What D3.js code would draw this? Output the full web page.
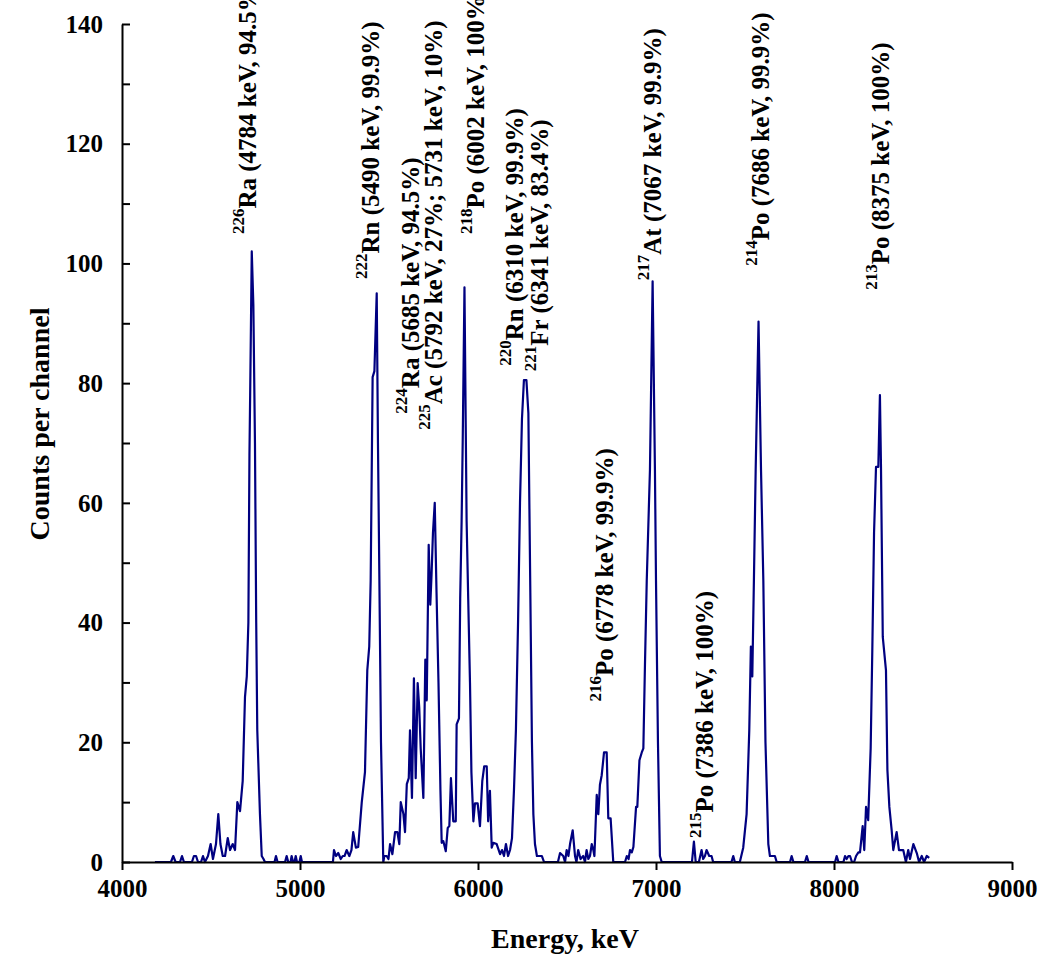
<!DOCTYPE html>
<html>
<head>
<meta charset="utf-8">
<script src="https://cdn.jsdelivr.net/npm/d3@7"></script>
<style>
	body { margin: 0; background: #fff; }
	svg text { font-family: "Liberation Serif", "Times New Roman", serif; font-weight: bold; fill: #000; }
</style>
</head>
<body>
<div id="vizHolder"></div>
<script>
// spectrum, energy (keV) and counts per channel
var energy = [4185,4275,4288,4301,4326,4337,4348,4393,4404,4416,4427,4444,4455,4466,4483,4498,4511,4528,4541,4553,
	4566,4579,4594,4607,4622,4635,4648,4663,4678,4691,4701,4710,4716,4720,4729,4738,4747,4754,4760,4775,
	4785,4795,4803,4857,4865,4874,4916,4925,4934,4947,4953,4961,4969,4976,4983,4997,5004,5011,5185,5191,
	5202,5215,5229,5240,5250,5262,5277,5289,5299,5314,5327,5347,5365,5378,5389,5397,5408,5418,5431,5438,
	5446,5455,5468,5474,5487,5497,5506,5519,5534,5547,5558,5566,5581,5590,5600,5611,5618,5629,5640,5650,
	5661,5670,5678,5693,5704,5712,5723,5732,5739,5747,5757,5767,5778,5789,5796,5805,5819,5830,5839,5848,
	5861,5875,5880,5893,5900,5908,5914,5924,5936,5945,5955,5963,5974,5983,5998,6011,6024,6035,6049,6057,
	6067,6077,6086,6105,6124,6135,6146,6157,6169,6180,6191,6202,6213,6225,6236,6247,6258,6272,6283,6294,
	6303,6311,6320,6331,6348,6359,6371,6433,6449,6461,6479,6489,6498,6508,6517,6532,6545,6553,6563,6576,
	6591,6601,6610,6620,6629,6639,6648,6654,6667,6676,6685,6695,6708,6723,6732,6745,6760,6826,6836,6846,
	6854,6864,6873,6888,6895,6907,6920,6929,6938,6948,6966,6981,6994,7000,7011,7022,7032,7202,7213,7223,
	7241,7256,7265,7275,7284,7299,7312,7321,7424,7434,7443,7471,7490,7509,7524,7533,7541,7550,7560,7576,
	7590,7603,7615,7631,7640,7668,7678,7753,7762,7772,7837,7847,7857,8006,8015,8025,8053,8062,8071,8081,
	8090,8101,8113,8124,8137,8146,8161,8170,8180,8192,8206,8215,8225,8236,8249,8258,8264,8274,8292,8300,
	8311,8324,8333,8352,8365,8389,8404,8417,8427,8446,8465,8478,8493,8506,8521,8535];

var counts = [0,0,1,0,0,1,0,0,1,1,0,0,1,0,1,3,0.5,3,8,3,
	1,1,4,2,3,2,10,8.5,13.5,27.6,31,40,68,78,102,93,70,40,22,8,
	1,0.5,0,0,1,0,0,1,0,0,1,0,0,1,0,0,1,0,0,2,
	1,1.5,0.5,1,1,2,1,2,5,2.4,2.5,10,15,32,36,47,81,82,95,70,
	47,20,0,1,1,0.5,3,1.3,5,5,3,10,8,5,13,14,22,10.7,30.7,14,
	29.9,25.7,19,10.7,33.8,27,53,43,48,55,60,45,30,12,3.2,3.5,1.8,5.7,6,14,
	6.8,6.8,23,24,44,57,70,96,57,44,30,15,6.8,9.8,9.8,6,13.5,16,16,6.8,
	11.9,2.4,3.2,3,1.3,2,1,3,1,2,4,12,22,40,60,74,80.5,80.5,75,45,
	20,8,3,1,1,1,0,0,0,1.5,1,0,2,1,3,5.3,1,0,2,0.5,
	1,0,2,0.5,1,3,2,1,11.2,8,12.9,14.5,18.3,18.3,7.3,7.3,0,0,1,0.5,
	2,1.6,2.5,9.2,9.2,17,18.3,19,33,47,65.5,97,65.5,47,20,1,0,0,3.4,0,
	0,2,0.5,1,2,1,1,0,0,1,0,0,2.4,8,22,36,31,47,65.5,90.3,
	65.5,47,20,3,1,1,0,0,1,0,0,1,0,0,1,0,0,1,0.5,1,
	1,0,0,1,1.6,1.6,6,2,9.2,7,19,35,55,66,66,78,66,37.6,32,15.4,
	9.2,5.3,2,5,2,2,0,2,0.5,3,1.5,0,1,0,1,0.7];

// axis ticks
var xTicks = [4000, 5000, 6000, 7000, 8000, 9000];
var yTicks = [0, 10, 20, 30, 40, 50, 60, 70, 80, 90, 100, 110, 120, 130, 140];

// peak labels: mass number, nuclide + decay line text
var labelMass = ['226', '222', '224', '225', '218', '220', '221', '216', '215', '217', '214', '213'];
var labelText = [
	'Ra (4784 keV, 94.5%)',
	'Rn (5490 keV, 99.9%)',
	'Ra (5685 keV, 94.5%)',
	'Ac (5792 keV, 27%; 5731 keV, 10%)',
	'Po (6002 keV, 100%)',
	'Rn (6310 keV, 99.9%)',
	'Fr (6341 keV, 83.4%)',
	'Po (6778 keV, 99.9%)',
	'Po (7386 keV, 100%)',
	'At (7067 keV, 99.9%)',
	'Po (7686 keV, 99.9%)',
	'Po (8375 keV, 100%)'
];
// where each label starts (energy of its baseline, count level of its lower end)
var labelAtEnergy = [4753, 5444, 5669, 5798, 6034, 6253, 6393, 6758, 7320, 7028, 7635, 8309];
var labelAtCount = [104.9, 97.4, 74.9, 72.2, 104.9, 82.9, 82, 26.8, 4, 97.2, 99.6, 95.6];

var svgWidth = 1038,
	svgHeight = 960,
	plotLeft = 122, plotRight = 1012,
	plotTop = 24, plotBottom = 862;

var xScale = d3.scaleLinear().domain([4000, 9000]).range([plotLeft, plotRight]);
var yScale = d3.scaleLinear().domain([0, 140]).range([plotBottom, plotTop]);

var svg = d3.select('#vizHolder')
	.append('svg')
	.attr('width', svgWidth)
	.attr('height', svgHeight);

// spectrum line
var line = d3.line()
	.x(function(d) { return xScale(d[0]); })
	.y(function(d) { return yScale(d[1]); });

svg.append('path')
	.datum(d3.zip(energy, counts))
	.attr('d', line)
	.attr('fill', 'none')
	.attr('stroke', '#000080')
	.attr('stroke-width', 2.2)
	.attr('stroke-linejoin', 'round');

// x axis
var xAxis = svg.append('g')
	.attr('transform', 'translate(0,' + plotBottom + ')')
	.call(d3.axisBottom(xScale)
		.tickValues(xTicks)
		.tickFormat(d3.format('d'))
		.tickSize(8)
		.tickSizeOuter(0)
		.tickPadding(9));

// y axis, ticks pointing inward
var yAxis = svg.append('g')
	.attr('transform', 'translate(' + plotLeft + ',0)')
	.call(d3.axisLeft(yScale)
		.tickValues(yTicks)
		.tickFormat(function(d) { return d % 20 === 0 ? d : ''; })
		.tickSize(-8)
		.tickSizeOuter(0)
		.tickPadding(19));

svg.selectAll('.domain, .tick line')
	.attr('stroke', '#000')
	.attr('stroke-width', 2);

svg.selectAll('.tick text')
	.attr('font-family', '"Liberation Serif", "Times New Roman", serif')
	.attr('font-weight', 'bold')
	.attr('font-size', 25)
	.attr('fill', '#000');

yAxis.selectAll('.tick text').attr('dy', '0.33em');

// axis titles
svg.append('text')
	.attr('x', 565)
	.attr('y', 948)
	.attr('text-anchor', 'middle')
	.attr('font-size', 28)
	.text('Energy, keV');

svg.append('text')
	.attr('transform', 'translate(49,424) rotate(-90)')
	.attr('text-anchor', 'middle')
	.attr('font-size', 28)
	.text('Counts per channel');

// peak labels
var labels = svg.selectAll('.peakLabel')
	.data(labelText)
	.enter()
	.append('text')
	.attr('class', 'peakLabel')
	.attr('transform', function(d, i) {
		return 'translate(' + xScale(labelAtEnergy[i]) + ',' + yScale(labelAtCount[i]) + ') rotate(-90)';
	})
	.attr('font-size', 25);

labels.append('tspan')
	.attr('font-size', 17)
	.attr('dy', -12)
	.text(function(d, i) { return labelMass[i]; });

labels.append('tspan')
	.attr('dy', 12)
	.text(function(d) { return d; });
</script>
</body>
</html>
